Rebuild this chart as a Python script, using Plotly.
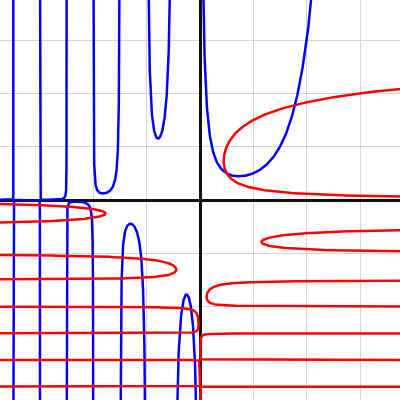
import math
import numpy as np
import plotly.graph_objects as go

# Gamma function and its reflection (x = Gamma(y))
poles = [-9, -8, -7, -6, -5, -4, -3, -2, -1, 0]
x_max = 8.0
y_clip = 9.0


def gamma_segments():
    xs, ys = [], []
    edges = poles + [x_max]
    for a, b in zip(edges[:-1], edges[1:]):
        near = np.logspace(-13, np.log10(0.5), 1500)
        t = np.concatenate([a + near, np.linspace(a + 0.5, b - 0.5, 500) if b - a > 1 else [],
                            (b - near[::-1]) if b != x_max else []])
        t = np.unique(t[(t > a) & (t < b)])
        for v in t:
            g = math.gamma(v)
            if abs(g) <= y_clip:
                xs.append(v)
                ys.append(g)
            elif xs and xs[-1] is not None:
                xs.append(None)
                ys.append(None)
        xs.append(None)
        ys.append(None)
    return xs, ys


gx, gy = gamma_segments()

fig = go.Figure()
fig.add_trace(go.Scatter(x=gx, y=gy, mode="lines", hoverinfo="skip",
                         line=dict(color="#0000ff", width=2.5)))
fig.add_trace(go.Scatter(x=gy, y=gx, mode="lines", hoverinfo="skip",
                         line=dict(color="#ff0000", width=2.5)))

axis = dict(range=[-7.5, 7.5], dtick=2, tick0=0, showticklabels=False,
            showgrid=True, gridcolor="#d4d4d4", gridwidth=1,
            zeroline=True, zerolinecolor="#111111", zerolinewidth=2.5,
            showline=False, ticks="")
fig.update_layout(width=400, height=400, margin=dict(l=0, r=0, t=0, b=0),
                  plot_bgcolor="white", paper_bgcolor="white",
                  showlegend=False, xaxis=axis, yaxis=axis)
fig.write_html("out.html", config={"displayModeBar": False},
               post_script="document.body.style.margin='0';")
